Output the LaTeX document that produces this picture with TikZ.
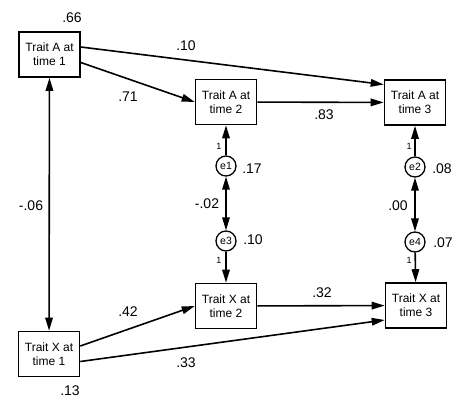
\documentclass[tikz,border=0pt]{standalone}
\usepackage{fontspec}
\setmainfont{Liberation Sans}
\usetikzlibrary{arrows.meta, positioning}
\tikzstyle{arrow} = [line width=1.6pt, -{Triangle[length=13pt,width=7.5pt]}]
\tikzstyle{twoway} = [line width=1.6pt, {Triangle[length=13pt,width=7.5pt]}-{Triangle[length=13pt,width=7.5pt]}]
\tikzstyle{trait} = [rectangle, draw=black, line width=1.6pt, minimum width=61pt, minimum height=45pt, align=center, font=\fontsize{12}{14}\selectfont, inner sep=1pt]
\tikzstyle{err} = [circle, draw=black, line width=1.3pt, minimum size=20pt, inner sep=0pt, font=\fontsize{10.5}{12}\selectfont]
\tikzstyle{coef} = [inner sep=0pt, font=\fontsize{14}{16}\selectfont]
\tikzstyle{fixed} = [inner sep=0pt, font=\fontsize{9}{10}\selectfont]

\begin{document}
\begin{tikzpicture}[x=1pt, y=-1pt]
        \useasboundingbox (0,0) rectangle (474,407);
        % Nodes
        \node (a1) [trait] at (49.5,54.5) {Trait A at\\time 1};
        \node (a2) [trait] at (226,102) {Trait A at\\time 2};
        \node (a3) [trait] at (415,102.5) {Trait A at\\time 3};
        \node (x1) [trait] at (49,354) {Trait X at\\time 1};
        \node (x2) [trait] at (226,306) {Trait X at\\time 2};
        \node (x3) [trait] at (416,305.5) {Trait X at\\time 3};

        % Residuals
        \node (e1) [err] at (226,166) {e1};
        \node (e3) [err] at (226,241) {e3};
        \node (e2) [err] at (415,167) {e2};
        \node (e4) [err] at (415,242) {e4};

        % Coefficients
        \node (va1) [coef] at (72,18) {.66};
        \node (vx1) [coef] at (70,391) {.13};
        \node (ca1x1) [coef] at (31,206) {-.06};
        \node (ba1a3) [coef] at (186,46) {.10};
        \node (ba1a2) [coef] at (128,97) {.71};
        \node (ba2a3) [coef] at (324,115) {.83};
        \node (bx1x2) [coef] at (128,312) {.42};
        \node (bx2x3) [coef] at (322,293) {.32};
        \node (bx1x3) [coef] at (186,363) {.33};
        \node (ve1) [coef] at (252,169) {.17};
        \node (ve3) [coef] at (253,240) {.10};
        \node (ve2) [coef] at (442,169) {.08};
        \node (ve4) [coef] at (443,243) {.07};
        \node (ce1e3) [coef] at (207,204) {-.02};
        \node (ce2e4) [coef] at (398,206) {.00};
        \node (f1) [fixed] at (219,146) {1};
        \node (f3) [fixed] at (219,260) {1};
        \node (f2) [fixed] at (409,146) {1};
        \node (f4) [fixed] at (409,260) {1};

        % Arrows
        \draw [twoway] (a1) -- (x1);
        \draw [arrow] ([yshift=7.5pt]a1.east) -- ([yshift=18pt]a3.west);
        \draw [arrow] ([yshift=-8pt]a1.east) -- (a2.west);
        \draw [arrow] (a2) -- (a3);
        \draw [arrow] ([yshift=8pt]x1.east) -- (x2.west);
        \draw [arrow] ([yshift=-7.5pt]x1.east) -- ([yshift=-14.5pt]x3.west);
        \draw [arrow] (x2) -- (x3);

        \draw [arrow] (e1) -- (a2);
        \draw [twoway] (e1) -- (e3);
        \draw [arrow] (e3) -- (x2);
        \draw [arrow] (e2) -- (a3);
        \draw [twoway] (e2) -- (e4);
        \draw [arrow] (e4) -- (x3);
\end{tikzpicture}
\end{document}
